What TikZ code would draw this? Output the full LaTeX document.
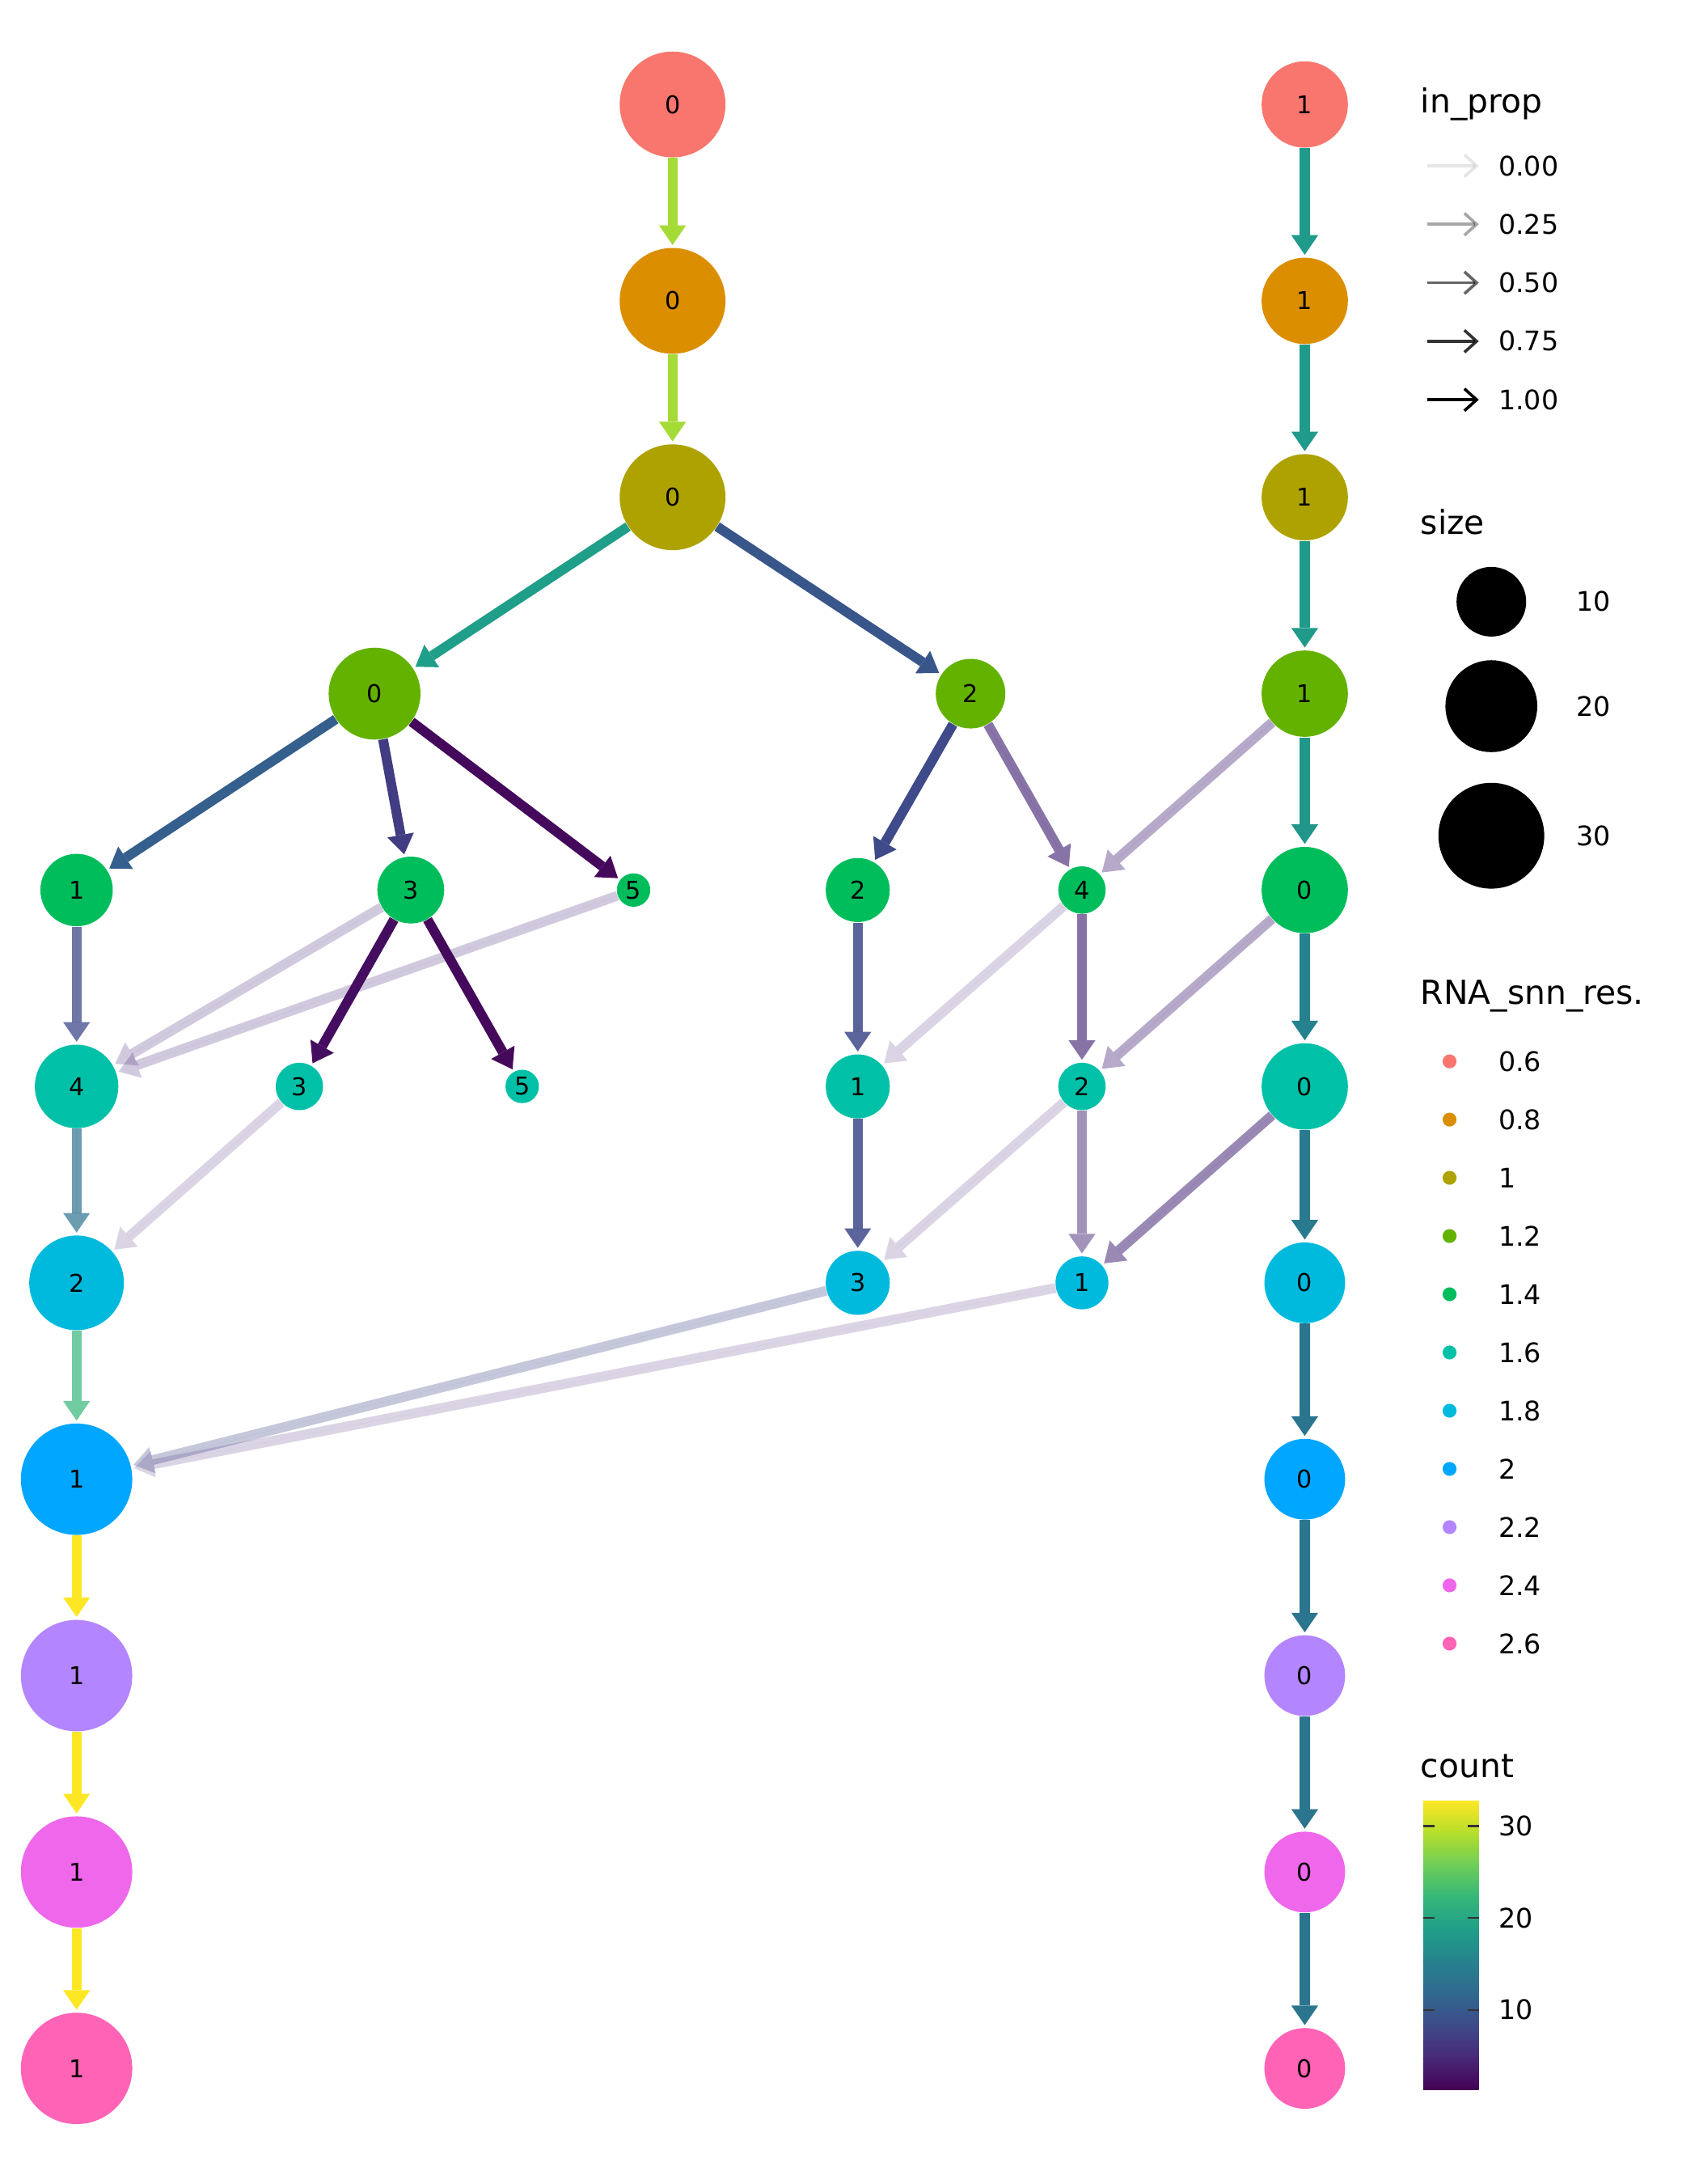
\documentclass[tikz,border=0pt]{standalone}
\usepackage{fontspec}
\setmainfont{DejaVu Sans}
\usetikzlibrary{arrows.meta}
\definecolor{c06}{HTML}{F8766D}\definecolor{c08}{HTML}{DB8E00}\definecolor{c10}{HTML}{AEA200}
\definecolor{c12}{HTML}{64B200}\definecolor{c14}{HTML}{00BD5C}\definecolor{c16}{HTML}{00C1A7}
\definecolor{c18}{HTML}{00BADE}\definecolor{c20}{HTML}{00A6FF}\definecolor{c22}{HTML}{B385FF}
\definecolor{c24}{HTML}{EF67EB}\definecolor{c26}{HTML}{FF63B6}
\definecolor{v0}{HTML}{440154}\definecolor{v1}{HTML}{482878}\definecolor{v2}{HTML}{3E4A89}
\definecolor{v3}{HTML}{31688E}\definecolor{v4}{HTML}{26828E}\definecolor{v5}{HTML}{1F9E89}
\definecolor{v6}{HTML}{35B779}\definecolor{v7}{HTML}{6DCD59}\definecolor{v8}{HTML}{B4DE2C}\definecolor{v9}{HTML}{FDE725}
\definecolor{vg}{HTML}{A5DB36}
\tikzset{cl/.style={circle,inner sep=0pt,font=\fontsize{10}{11}\selectfont},
 edge/.style={line width=4pt,-{Triangle[length=8pt,width=11pt,line width=0pt]},shorten >=1pt},
 lab/.style={anchor=west,font=\fontsize{11}{13}\selectfont},
 ttl/.style={anchor=west,font=\fontsize{13.5}{15}\selectfont}}
\newcommand{\cn}[6]{\node[cl,fill=#5,minimum size={#4*0.04cm}] (#1) at (#2,#3) {#6};}
\newcommand{\ed}[4]{\draw[edge,draw=#3,draw opacity=#4,fill=#3,fill opacity=#4] (#1) -- (#2);}
\begin{document}
\begin{tikzpicture}[x=0.02cm,y=-0.02cm]
\useasboundingbox (0,0) rectangle (1220,1568);
% nodes
\cn{a0}{483}{75}{38}{c06}{0}\cn{a1}{937}{75}{31}{c06}{1}
\cn{b0}{483}{216}{38}{c08}{0}\cn{b1}{937}{216}{31}{c08}{1}
\cn{c0}{483}{357}{38}{c10}{0}\cn{c1}{937}{357}{31}{c10}{1}
\cn{d0}{269}{498}{33}{c12}{0}\cn{d2}{697}{498}{25}{c12}{2}\cn{d1}{937}{498}{31}{c12}{1}
\cn{e1}{55}{639}{26}{c14}{1}\cn{e3}{295}{639}{24}{c14}{3}\cn{e5}{455}{639}{12}{c14}{5}
\cn{e2}{616}{639}{23}{c14}{2}\cn{e4}{777}{639}{17}{c14}{4}\cn{e0}{937}{639}{31}{c14}{0}
\cn{f4}{55}{780}{30}{c16}{4}\cn{f3}{215}{780}{17}{c16}{3}\cn{f5}{375}{780}{12}{c16}{5}
\cn{f1}{616}{780}{23}{c16}{1}\cn{f2}{777}{780}{17}{c16}{2}\cn{f0}{937}{780}{31}{c16}{0}
\cn{g2}{55}{921}{34}{c18}{2}\cn{g3}{616}{921}{23}{c18}{3}\cn{g1}{777}{921}{19}{c18}{1}\cn{g0}{937}{921}{29}{c18}{0}
\cn{h1}{55}{1062}{40}{c20}{1}\cn{h0}{937}{1062}{29}{c20}{0}
\cn{i1}{55}{1203}{40}{c22}{1}\cn{i0}{937}{1203}{29}{c22}{0}
\cn{j1}{55}{1344}{40}{c24}{1}\cn{j0}{937}{1344}{29}{c24}{0}
\cn{k1}{55}{1485}{40}{c26}{1}\cn{k0}{937}{1485}{29}{c26}{0}
% edges
\ed{a0}{b0}{vg}{1}\ed{b0}{c0}{vg}{1}
\ed{a1}{b1}{v5!85!v4}{1}\ed{b1}{c1}{v5!85!v4}{1}\ed{c1}{d1}{v5!85!v4}{1}\ed{d1}{e0}{v5!70!v4}{1}
\ed{c0}{d0}{v5}{1}\ed{c0}{d2}{v2!60!v3}{1}
\ed{d0}{e1}{v3!70!v2}{1}\ed{d0}{e3}{v2!60!v1}{1}\ed{d0}{e5}{v0!80!v1}{1}
\ed{d2}{e2}{v2}{1}\ed{d2}{e4}{v1}{0.65}\ed{d1}{e4}{v1}{0.4}
\ed{e1}{f4}{v2}{0.75}\ed{e3}{f4}{v1}{0.25}\ed{e5}{f4}{v1}{0.25}
\ed{e3}{f3}{v0!70!v1}{1}\ed{e3}{f5}{v0!80!v1}{1}
\ed{e2}{f1}{v2}{0.85}\ed{e4}{f1}{v1}{0.2}\ed{e4}{f2}{v1}{0.65}
\ed{e0}{f2}{v1}{0.4}\ed{e0}{f0}{v4}{1}
\ed{f4}{g2}{v3!60!v4}{0.7}\ed{f3}{g2}{v1}{0.2}
\ed{f1}{g3}{v2}{0.85}\ed{f2}{g3}{v1}{0.2}\ed{f2}{g1}{v1}{0.5}\ed{f0}{g1}{v1}{0.55}
\ed{f0}{g0}{v4!70!v3}{1}
\ed{g2}{h1}{v6}{0.7}\ed{g3}{h1}{v2}{0.3}\ed{g1}{h1}{v1}{0.2}
\ed{g0}{h0}{v4!50!v3}{1}\ed{h0}{i0}{v4!50!v3}{1}\ed{i0}{j0}{v4!50!v3}{1}\ed{j0}{k0}{v4!50!v3}{1}
\ed{h1}{i1}{v9}{1}\ed{i1}{j1}{v9}{1}\ed{j1}{k1}{v9}{1}
% legend in_prop
\node[ttl] (t1) at (1014,75) {in\_prop};
\foreach \y/\o/\l [count=\i] in {119/0.1/0.00,161/0.35/0.25,203/0.6/0.50,245/0.8/0.75,287/1/1.00}{
 \coordinate (p\i) at (1025,\y); \coordinate (q\i) at (1062,\y);
 \draw[line width=1.2pt,draw=black,draw opacity=\o,-{Straight Barb[length=5pt,width=9pt]}] (p\i) -- (q\i);
 \node[lab] (lp\i) at (1070,\y) {\l};}
% size
\node[ttl] (t2) at (1014,375) {size};
\node[circle,fill=black,minimum size=1cm,inner sep=0pt] (s1) at (1071,432) {};
\node[circle,fill=black,minimum size=1.32cm,inner sep=0pt] (s2) at (1071,507) {};
\node[circle,fill=black,minimum size=1.52cm,inner sep=0pt] (s3) at (1071,600) {};
\node[lab] (ls1) at (1126,432) {10};\node[lab] (ls2) at (1126,507) {20};\node[lab] (ls3) at (1126,600) {30};
% RNA
\node[ttl] (t3) at (1014,715) {RNA\_snn\_res.};
\foreach \c/\l [count=\i] in {c06/0.6,c08/0.8,c10/1,c12/1.2,c14/1.4,c16/1.6,c18/1.8,c20/2,c22/2.2,c24/2.4,c26/2.6}{
 \node[circle,fill=\c,minimum size=0.2cm,inner sep=0pt] (rd\i) at (1041,{762+(\i-1)*41.8}) {};
 \node[lab] (rl\i) at (1070,{762+(\i-1)*41.8}) {\l};}
% count
\node[ttl] (t4) at (1014,1268) {count};
\foreach \a/\b [count=\i] in {v9/v8,v8/v7,v7/v6,v6/v5,v5/v4,v4/v3,v3/v2,v2/v1,v1/v0}{
 \shade[top color=\a,bottom color=\b] (1022,{1293+(\i-1)*23}) rectangle (1062,{1293+\i*23+0.5});}
\foreach \y/\l in {1311/30,1377/20,1443/10}{
 \draw[line width=0.8pt,black!80] (1022,\y) -- (1030,\y) (1054,\y) -- (1062,\y);
 \node[lab] at (1070,\y) {\l};}
\end{tikzpicture}
\end{document}
